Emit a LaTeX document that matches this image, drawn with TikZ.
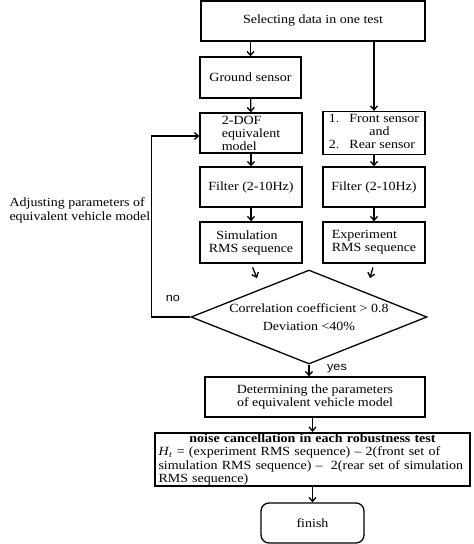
\documentclass[tikz,border=0pt]{standalone}
\usepackage{fontspec}
\setmainfont{Liberation Serif}[FakeStretch=1.12]
\newfontfamily\tagfont{Liberation Sans}[FakeStretch=1.1]
\usetikzlibrary{shapes.geometric,arrows.meta}
\tikzset{
  box/.style={draw,line width=1.3pt,minimum width=102pt,minimum height=40pt,inner sep=2pt,
    font=\fontsize{12.5}{13}\selectfont},
  flow/.style={line width=1.3pt,-{Straight Barb[length=4pt,width=7pt,line width=1.3pt]}},
  tag/.style={font=\tagfont\fontsize{11.5}{13}\selectfont}
}
\begin{document}
\begin{tikzpicture}[x=1pt,y=-1pt]
   \useasboundingbox (0,0) rectangle (474,544);

   \node[box,minimum width=224pt] (sel) at (313,21) {Selecting data in one test};
   \node[box,minimum width=101pt,minimum height=41pt] (ground) at (250.5,77.5) {Ground sensor};
   \node[box,align=left] (dof) at (251,133) {2-DOF\\equivalent\\model};
   \node[box] (sensors) at (374,133) {\begin{tabular}{@{}l@{\hspace{10pt}}l@{}}1.&Front sensor\\&\hspace{20pt}and\\2.&Rear sensor\end{tabular}};
   \node[box] (filterL) at (251,187) {Filter (2-10Hz)};
   \node[box] (filterR) at (374,187) {Filter (2-10Hz)};
   \node[box,align=center,minimum height=41pt] (sim) at (251,242.5) {\hspace{-8pt}Simulation\\RMS sequence};
   \node[box,align=left,minimum height=41pt] (exp) at (374,242.5) {Experiment\\RMS sequence};

   \node[diamond,draw,line width=1.3pt,aspect=2.5,inner sep=0pt,minimum width=236pt,minimum height=94pt,
     align=center,font=\fontsize{12.5}{13}\selectfont] (check) at (309,317)
     {Correlation coefficient > 0.8\\[5pt]Deviation <40\%};

   \node[box,minimum width=220pt,align=center] (det) at (315,397) {Determining the parameters\\of equivalent vehicle model};
   \node[box,line width=2pt,minimum width=315pt,minimum height=53pt,text width=308pt,inner sep=1pt,
     font=\fontsize{12.5}{13.3}\selectfont] (noise) at (312.5,459.5)
     {{\centering\bfseries noise cancellation in each robustness test\par}
      \textit{H}\textsubscript{\textit{t}} = (experiment RMS sequence) -- 2(front set of\linebreak
      simulation RMS sequence) -- \ 2(rear set of simulation\linebreak
      RMS sequence)};
   \node[box,rounded corners=8pt,minimum width=103pt] (finish) at (312.5,523) {finish};

   \node[anchor=west,align=left,font=\fontsize{12.5}{14}\selectfont] (adjust) at (6,210)
     {Adjusting parameters of\\equivalent vehicle model};
   \node[tag] (no) at (173,298) {no};
   \node[tag] (yes) at (337,369) {yes};

   \coordinate (simIn) at (257,278);
   \coordinate (expIn) at (370,278);

   \draw[flow] (ground.north |- sel.south) -- (ground.north);
   \draw[flow] (sensors.north |- sel.south) -- (sensors.north);
   \draw[flow] (ground) -- (dof);
   \draw[flow] (dof) -- (filterL);
   \draw[flow] (filterL) -- (sim);
   \draw[flow] (sensors) -- (filterR);
   \draw[flow] (filterR) -- (exp);
   \draw[flow,shorten <=4pt] (sim.south) -- (simIn);
   \draw[flow,shorten <=4pt] (exp.south) -- (expIn);
   \draw[flow] (check.west) -- ++(-39,0) |- ([yshift=-3pt]dof.west);
   \draw[flow] (check.south) -- (check.south |- det.north);
   \draw[flow] (noise.north |- det.south) -- (noise.north);
   \draw[flow] (noise) -- (finish);
  \end{tikzpicture}
\end{document}
